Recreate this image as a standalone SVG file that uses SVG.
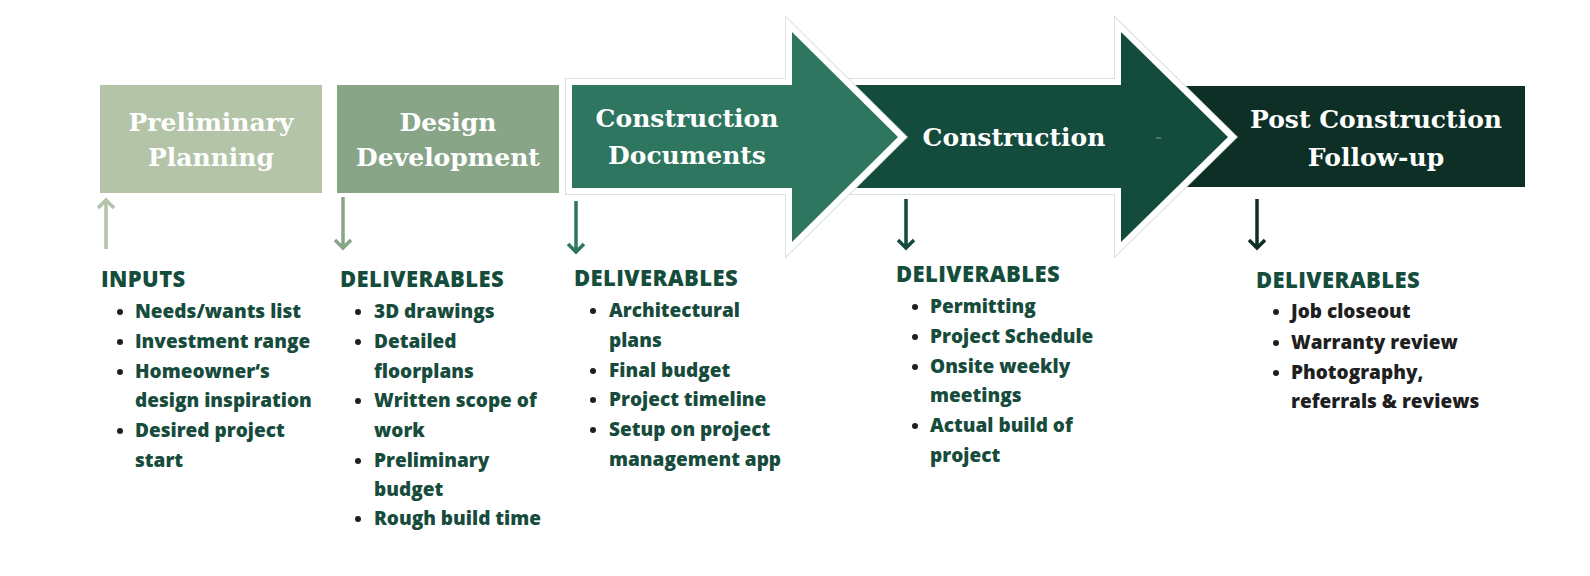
<svg xmlns="http://www.w3.org/2000/svg" width="1590" height="576" viewBox="0 0 1590 576">
<style>
.hd{font-family:"DejaVu Serif","Liberation Serif",serif;font-weight:bold;font-size:25px;fill:#ffffff;text-anchor:middle}
.sec{font-family:"Open Sans","Liberation Sans",sans-serif;font-weight:800;font-size:22px;letter-spacing:0.4px;fill:#144d3c}
.it{font-family:"Open Sans","Liberation Sans",sans-serif;font-weight:800;font-size:19px;fill:#174c3d}
.it.k{fill:#1f1f1f}
.dot{fill:#1f1f1f}
.ol{stroke:#d9e2dd;stroke-width:14;stroke-linejoin:miter}
.wh{stroke:#ffffff;stroke-width:12;stroke-linejoin:miter}
.cn{fill:none;stroke-width:3.5;stroke-linecap:butt;stroke-linejoin:miter}
</style>
<rect width="1590" height="576" fill="#ffffff"/>

<g id="post-construction">
<rect x="1180" y="86" width="345" height="101" fill="#0d2f26"/>
<text class="hd" x="1376" y="128">Post Construction</text>
<text class="hd" x="1376" y="166">Follow-up</text>
</g>

<g id="construction">
<polygon class="ol" points="850,85 1121,85 1121,32 1228,137 1121,242 1121,188 850,188" fill="#134b3c"/>
<polygon class="wh" points="850,85 1121,85 1121,32 1228,137 1121,242 1121,188 850,188" fill="#134b3c"/>
<polygon points="850,85 1121,85 1121,32 1228,137 1121,242 1121,188 850,188" fill="#134b3c"/>
<text class="hd" x="1014" y="146">Construction</text>
<line x1="1156" y1="138" x2="1161" y2="138" stroke="#7f9c92" stroke-width="1"/>
</g>

<g id="construction-documents">
<polygon class="ol" points="572,85 792,85 792,32 898,137 792,242 792,188 572,188" fill="#2e7660"/>
<polygon class="wh" points="572,85 792,85 792,32 898,137 792,242 792,188 572,188" fill="#2e7660"/>
<polygon points="572,85 792,85 792,32 898,137 792,242 792,188 572,188" fill="#2e7660"/>
<text class="hd" x="687" y="127">Construction</text>
<text class="hd" x="687" y="164">Documents</text>
</g>

<g id="preliminary-planning">
<rect x="100" y="85" width="222" height="108" fill="#b3c4a8"/>
<text class="hd" x="211" y="131">Preliminary</text>
<text class="hd" x="211" y="166">Planning</text>
</g>

<g id="design-development">
<rect x="337" y="85" width="222" height="108" fill="#88a588"/>
<text class="hd" x="448" y="131">Design</text>
<text class="hd" x="448" y="166">Development</text>
</g>

<g id="connectors">
<path class="cn" stroke="#b3c4a8" d="M106,249 V200 M98,208 L106,200 L114,208"/>
<path class="cn" stroke="#88a588" d="M343,197 V248 M335,240 L343,248 L351,240"/>
<path class="cn" stroke="#2e7660" d="M576,201 V252 M568,244 L576,252 L584,244"/>
<path class="cn" stroke="#134b3c" d="M906,199 V248 M898,240 L906,248 L914,240"/>
<path class="cn" stroke="#0d2f26" d="M1257,199 V248 M1249,240 L1257,248 L1265,240"/>
</g>

<g id="inputs-list">
<text class="sec" x="101" y="287">INPUTS</text>
<circle class="dot" cx="120" cy="312" r="3"/>
<circle class="dot" cx="120" cy="342" r="3"/>
<circle class="dot" cx="120" cy="372" r="3"/>
<circle class="dot" cx="120" cy="431" r="3"/>
<text class="it" x="135" y="318">Needs/wants list</text>
<text class="it" x="135" y="348">Investment range</text>
<text class="it" x="135" y="378">Homeowner‘s</text>
<text class="it" x="135" y="407">design inspiration</text>
<text class="it" x="135" y="437">Desired project</text>
<text class="it" x="135" y="467">start</text>
</g>

<g id="design-deliverables">
<text class="sec" x="340" y="287">DELIVERABLES</text>
<circle class="dot" cx="358" cy="312" r="3"/>
<circle class="dot" cx="358" cy="342" r="3"/>
<circle class="dot" cx="358" cy="401" r="3"/>
<circle class="dot" cx="358" cy="461" r="3"/>
<circle class="dot" cx="358" cy="519" r="3"/>
<text class="it" x="374" y="318">3D drawings</text>
<text class="it" x="374" y="348">Detailed</text>
<text class="it" x="374" y="378">floorplans</text>
<text class="it" x="374" y="407">Written scope of</text>
<text class="it" x="374" y="437">work</text>
<text class="it" x="374" y="467">Preliminary</text>
<text class="it" x="374" y="496">budget</text>
<text class="it" x="374" y="525">Rough build time</text>
</g>

<g id="documents-deliverables">
<text class="sec" x="574" y="286">DELIVERABLES</text>
<circle class="dot" cx="593" cy="311" r="3"/>
<circle class="dot" cx="593" cy="371" r="3"/>
<circle class="dot" cx="593" cy="400" r="3"/>
<circle class="dot" cx="593" cy="430" r="3"/>
<text class="it" x="609" y="317">Architectural</text>
<text class="it" x="609" y="347">plans</text>
<text class="it" x="609" y="377">Final budget</text>
<text class="it" x="609" y="406">Project timeline</text>
<text class="it" x="609" y="436">Setup on project</text>
<text class="it" x="609" y="466">management app</text>
</g>

<g id="construction-deliverables">
<text class="sec" x="896" y="282">DELIVERABLES</text>
<circle class="dot" cx="915" cy="307" r="3"/>
<circle class="dot" cx="915" cy="337" r="3"/>
<circle class="dot" cx="915" cy="367" r="3"/>
<circle class="dot" cx="915" cy="426" r="3"/>
<text class="it" x="930" y="313">Permitting</text>
<text class="it" x="930" y="343">Project Schedule</text>
<text class="it" x="930" y="373">Onsite weekly</text>
<text class="it" x="930" y="402">meetings</text>
<text class="it" x="930" y="432">Actual build of</text>
<text class="it" x="930" y="462">project</text>
</g>

<g id="post-deliverables">
<text class="sec" x="1256" y="288">DELIVERABLES</text>
<circle class="dot" cx="1276" cy="312" r="3"/>
<circle class="dot" cx="1276" cy="343" r="3"/>
<circle class="dot" cx="1276" cy="373" r="3"/>
<text class="it k" x="1291" y="318">Job closeout</text>
<text class="it k" x="1291" y="349">Warranty review</text>
<text class="it k" x="1291" y="379">Photography,</text>
<text class="it k" x="1291" y="408">referrals &amp; reviews</text>
</g>
</svg>
